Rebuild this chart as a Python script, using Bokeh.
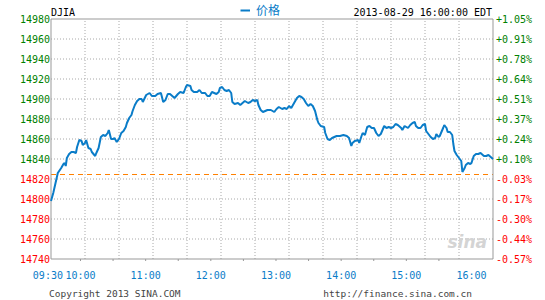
from bokeh.plotting import figure
from bokeh.models import Range1d, Legend, LegendItem
from bokeh.core.properties import value
from bokeh.embed import file_html
from bokeh.resources import INLINE

# ---- data -------------------------------------------------------------
symbol = "DJIA"
stamp = "2013-08-29 16:00:00 EDT"
series_name = "价格"
prev_close = 14824.51

# minutes after the 09:30 open
minute = [0, 2, 4, 5, 6, 9, 11, 12, 13, 14, 16, 18, 20, 22, 23, 25, 27, 28, 30, 31,
          33, 35, 36, 39, 40, 42, 44, 46, 48, 50, 51, 53, 55, 56, 58, 60, 62, 64, 66, 67,
          69, 71, 72, 74, 76, 78, 80, 81, 84, 87, 89, 92, 94, 97, 99, 101, 103, 105, 107, 109,
          112, 114, 117, 119, 120, 123, 124, 126, 129, 131, 133, 136, 138, 140, 142, 144, 146, 148, 149, 151,
          153, 155, 157, 159, 160, 162, 165, 167, 169, 171, 174, 176, 178, 180, 182, 183, 185, 187, 189, 191,
          194, 197, 199, 201, 204, 206, 208, 210, 212, 215, 217, 219, 221, 223, 225, 227, 229, 231, 233, 235,
          236, 238, 241, 242, 244, 246, 248, 250, 252, 255, 258, 261, 263, 265, 266, 268, 271, 272, 274, 275,
          277, 279, 281, 283, 285, 287, 289, 291, 294, 296, 298, 300, 302, 304, 306, 309, 310, 312, 315, 317,
          319, 321, 322, 324, 326, 328, 330, 331, 333, 335, 337, 339, 340, 342, 343, 346, 347, 349, 350, 352,
          354, 355, 356, 358, 360, 362, 363, 365, 366, 368, 370, 371, 373, 375, 377, 379, 382, 384, 386, 389,
          390]
price = [14798, 14806, 14816, 14821, 14826, 14831, 14835, 14836, 14833, 14841, 14845, 14847, 14847, 14846, 14852, 14859, 14858, 14854, 14856, 14859,
         14851, 14850, 14847, 14843, 14846, 14851, 14862, 14864, 14863, 14866, 14869, 14860, 14860, 14861, 14857, 14860, 14866, 14868, 14872, 14876,
         14881, 14884, 14888, 14894, 14898, 14900, 14900, 14897, 14904, 14906, 14903, 14903, 14905, 14906, 14897, 14899, 14905, 14905, 14903, 14901,
         14905, 14907, 14906, 14912, 14914, 14913, 14909, 14907, 14907, 14909, 14906, 14906, 14903, 14903, 14907, 14906, 14905, 14907, 14911, 14912,
         14909, 14908, 14909, 14906, 14897, 14895, 14896, 14894, 14896, 14898, 14896, 14897, 14899, 14898, 14899, 14894, 14889, 14887, 14888, 14889,
         14889, 14887, 14890, 14892, 14890, 14891, 14890, 14893, 14891, 14897, 14901, 14903, 14902, 14900, 14896, 14893, 14895, 14893, 14888, 14879,
         14876, 14873, 14872, 14866, 14860, 14859, 14861, 14862, 14863, 14863, 14864, 14863, 14861, 14853, 14856, 14858, 14859, 14856, 14863, 14866,
         14864, 14872, 14873, 14871, 14871, 14866, 14863, 14865, 14873, 14871, 14872, 14871, 14872, 14875, 14874, 14871, 14869, 14873, 14871, 14874,
         14876, 14877, 14873, 14871, 14871, 14874, 14875, 14868, 14865, 14862, 14860, 14861, 14865, 14862, 14863, 14871, 14874, 14871, 14867, 14867,
         14864, 14855, 14848, 14844, 14841, 14838, 14827, 14831, 14834, 14836, 14835, 14836, 14843, 14845, 14845, 14846, 14843, 14843, 14844, 14841,
         14840]

price_ticks = list(range(14740, 15000, 20))
grid_minutes = list(range(30, 390, 30))
time_ticks = [0, 30, 90, 150, 210, 270, 330, 390]
time_labels = ["09:30", "10:00", "11:00", "12:00", "13:00", "14:00", "15:00", "16:00"]
copyright_text = "Copyright 2013 SINA.COM"
site_text = "http://finance.sina.com.cn"
watermark = "sina"

# ---- layout -------------------------------------------------------------
W, H = 545, 300
T0, T1 = 0, 390                       # session length in minutes
P0, P1 = price_ticks[0], price_ticks[-1]
# chart box edges sit on pixel centres so 1px rules stay crisp
CHART_L, CHART_R, CHART_T, CHART_B = 50.5, 492.5, 18.5, 258.5
LBL_L, LBL_R = 47.4, 471              # time labels run on a slightly narrower scale

ppm = (CHART_R - CHART_L) / (T1 - T0)
ppp = (CHART_B - CHART_T) / (P1 - P0)
lpm = (LBL_R - LBL_L) / (T1 - T0)

MONO = "DejaVu Sans Mono"
BLUE = "#0a7cc8"
UP = "#008000"
DOWN = "#ff0000"
GRID = "#a8a8a8"
EDGE = "#999999"

p = figure(width=W, height=H, output_backend="svg", toolbar_location=None,
           x_range=Range1d(T0 - CHART_L / ppm, T1 + (W - CHART_R) / ppm),
           y_range=Range1d(P0 - (H - CHART_B) / ppp, P1 + CHART_T / ppp),
           x_axis_location=None, y_axis_location=None, min_border=0)
p.extra_x_ranges = {"lbl": Range1d(T0 - LBL_L / lpm, T1 + (W - LBL_R) / lpm)}
p.outline_line_color = None
p.grid.visible = False
p.background_fill_color = "white"
p.border_fill_color = "white"

# dotted grid
p.segment(x0=grid_minutes, y0=P0, x1=grid_minutes, y1=P1,
          line_color=GRID, line_dash="1 2", line_width=1)
p.segment(x0=T0, y0=price_ticks[1:-1], x1=T1, y1=price_ticks[1:-1],
          line_color=GRID, line_dash="1 2", line_width=1)

# previous close
p.segment(x0=T0, y0=prev_close, x1=T1, y1=prev_close,
          line_color="#ff8000", line_dash="5 4", line_width=1.2)

# chart frame
p.quad(left=T0, right=T1, bottom=P0, top=P1, fill_color=None,
       line_color=EDGE, line_width=1)

# watermark
p.text(x=T1, y=P0, text=[watermark], x_offset=-6, y_offset=-7,
       text_align="right", text_baseline="bottom", text_font=value("DejaVu Sans"),
       text_font_style="bold italic", text_font_size="17px", text_color="#d4d4d4")

line = p.line(minute, price, line_width=2, line_color=BLUE)

# price labels (left) and percent change labels (right)
pct = []
for v in price_ticks:
    c = (v - prev_close) / prev_close * 100
    pct.append(("+" if c >= 0 else "-") + f"{abs(c):.2f}%")
colors = [UP if v >= prev_close else DOWN for v in price_ticks]
p.text(x=T0, y=price_ticks, text=[str(v) for v in price_ticks], x_offset=-1,
       text_align="right", text_baseline="middle", text_color=colors,
       text_font=value(MONO), text_font_size="10px")
p.text(x=T1, y=price_ticks, text=pct, x_offset=3,
       text_align="left", text_baseline="middle", text_color=colors,
       text_font=value(MONO), text_font_size="10px")

# time axis: small ticks under the frame and the hour labels
p.ray(x=grid_minutes, y=P0, length=2, length_units="screen", angle=-90,
      angle_units="deg", line_color=EDGE, x_range_name="lbl")
p.text(x=time_ticks, y=P0, text=time_labels, y_offset=16, x_range_name="lbl",
       text_align="center", text_baseline="middle", text_color=BLUE,
       text_font=value(MONO), text_font_size="10px")

# header
p.text(x=T0, y=P1, text=[symbol], y_offset=-7, text_align="left",
       text_baseline="middle", text_color="black",
       text_font=value(MONO), text_font_size="10px")
p.text(x=T1, y=P1, text=[stamp], x_offset=-1, y_offset=-7, text_align="right",
       text_baseline="middle", text_color="black",
       text_font=value(MONO), text_font_size="10px")

legend = Legend(items=[LegendItem(label=series_name, renderers=[line])],
                location=(240, H - 18), orientation="horizontal",
                glyph_width=10, glyph_height=12, label_standoff=6, padding=0, margin=0,
                spacing=0, label_height=12, border_line_color=None, background_fill_alpha=0,
                label_text_font="Noto Sans CJK SC", label_text_font_size="12px",
                label_text_color=BLUE, label_text_baseline="middle")
p.add_layout(legend)

# footer
p.text(x=T0, y=P0, text=[copyright_text], x_offset=-2, y_offset=34, text_align="left",
       text_baseline="middle", text_color="#444444",
       text_font=value(MONO), text_font_size="9.5px")
p.text(x=T1, y=P0, text=[site_text], x_offset=-21, y_offset=34, text_align="right",
       text_baseline="middle", text_color="#444444",
       text_font=value(MONO), text_font_size="9.5px")

open("out.html", "w").write(file_html(p, INLINE))
